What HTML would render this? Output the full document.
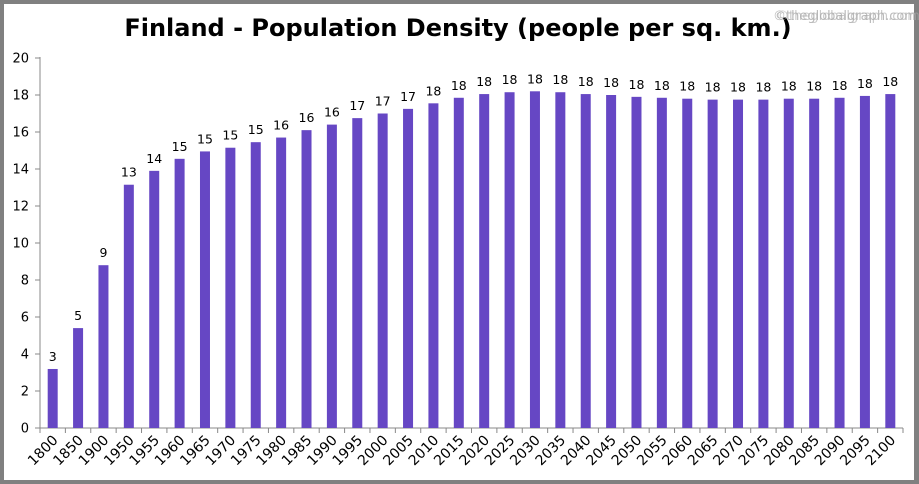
<!DOCTYPE html>
<html><head><meta charset="utf-8"><style>body{margin:0}svg{display:block}</style></head><body>
<svg width="919" height="484" xmlns="http://www.w3.org/2000/svg" font-family="DejaVu Sans, Liberation Sans, sans-serif">
<rect x="0" y="0" width="919" height="484" fill="#808080"/>
<rect x="4" y="4" width="910" height="476" fill="#fff"/>
<text x="458" y="36" text-anchor="middle" font-size="24" font-weight="bold" fill="#000">Finland - Population Density (people per sq. km.)</text>
<text x="845" y="20" text-anchor="middle" font-size="13" fill="#aaa" opacity="0.8">©theglobalgraph.com</text>
<text x="848" y="20" text-anchor="middle" font-size="13" fill="#aaa" opacity="0.6">©theglobalgraph.com</text>
<g id="c"></g>
</svg>
<script>
const vals=[3.19,5.4,8.8,13.15,13.9,14.55,14.95,15.15,15.45,15.7,16.1,16.4,16.75,17.0,17.25,17.55,17.85,18.05,18.15,18.2,18.15,18.05,18.0,17.9,17.85,17.8,17.75,17.75,17.75,17.8,17.8,17.85,17.95,18.05];
const yrs=[1800,1850,1900];for(let y=1950;y<=2100;y+=5)yrs.push(y);
let s='';const x0=40,y0=428,sc=18.5,w=(903-40)/34;
s+=`<line x1="40" y1="57" x2="40" y2="428" stroke="#888"/><line x1="40" y1="428" x2="903" y2="428" stroke="#888"/>`;
for(let i=0;i<=10;i++){const y=y0-i*2*sc;s+=`<line x1="35" y1="${y}" x2="40" y2="${y}" stroke="#888"/><text x="29" y="${y+4.5}" text-anchor="end" font-size="13">${i*2}</text>`;}
for(let i=0;i<=34;i++){const x=x0+i*w;s+=`<line x1="${x}" y1="428" x2="${x}" y2="433" stroke="#888"/>`;}
vals.forEach((v,i)=>{const cx=x0+w*(i+0.5),t=y0-v*sc;
s+=`<rect x="${cx-5}" y="${t}" width="10" height="${v*sc}" fill="#6647c4"/>`;
s+=`<text x="${cx}" y="${t-8}" text-anchor="middle" font-size="12.5">${Math.round(v)}</text>`;
s+=`<text transform="translate(${cx+6},${441}) rotate(-45)" text-anchor="end" font-size="14">${yrs[i]}</text>`;});
document.getElementById('c').innerHTML=s;
</script>
</body></html>
